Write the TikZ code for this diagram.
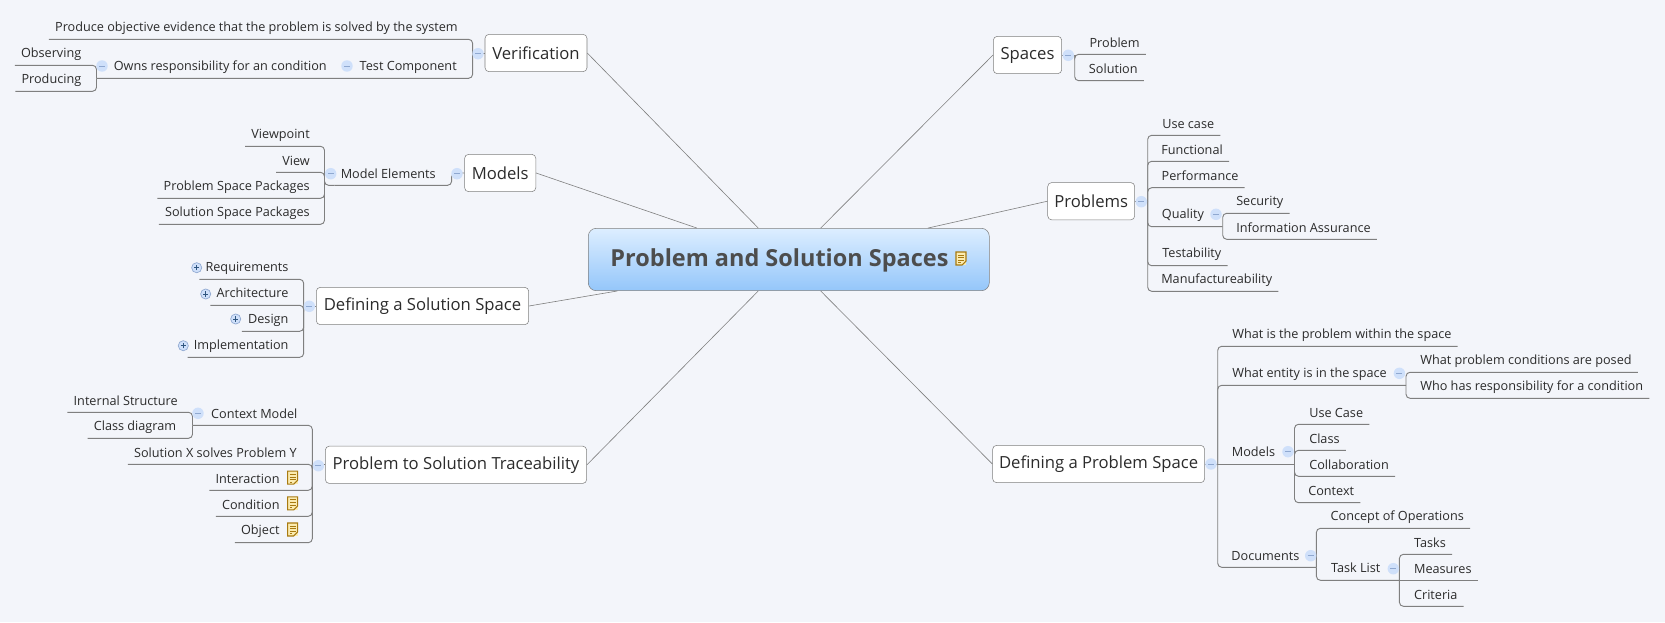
\documentclass[tikz,border=0pt]{standalone}
\usepackage{fontspec}
\setmainfont{Open Sans}

\definecolor{bgcol}{HTML}{F3F5FA}
\definecolor{linecol}{HTML}{7F7F7F}
\definecolor{textcol}{HTML}{2B2B2B}
\definecolor{rootcol}{HTML}{4D4D4D}
\definecolor{roottop}{HTML}{DDEEFF}
\definecolor{rootbot}{HTML}{94C6FA}
\definecolor{circcol}{HTML}{CFE0FA}
\definecolor{minuscol}{HTML}{8FA8D0}
\definecolor{pluscol}{HTML}{2F557F}
\definecolor{notecol}{HTML}{A87A10}
\definecolor{notefill}{HTML}{FBEBB0}

\tikzset{
  x=.75pt, y=-.75pt,
  spoke/.style={draw=linecol, line width=.45pt},
  branch/.style={draw=linecol, line width=.7pt, rounded corners=3pt},
  root/.style={draw=linecol, rounded corners=6pt, top color=roottop, bottom color=rootbot, minimum width=300.75pt, minimum height=46.8pt, inner sep=0pt, text height=13pt, text depth=1.8pt, text=rootcol, font=\fontsize{17.6}{20}\selectfont\bfseries},
  mainbox/.style={draw=linecol, fill=white, rounded corners=3pt, minimum height=28pt, inner sep=0pt, text=textcol, font=\fontsize{12.5}{14}\selectfont},
  topic/.style={inner xsep=4.5pt, inner ysep=3.6pt, text height=7.2pt, text depth=2.2pt, text=textcol, font=\fontsize{9.5}{11}\selectfont},
  low/.style={inner ysep=2.9pt},
  topicl/.style={topic, anchor=south east},
  topicr/.style={topic, anchor=south west},
  collapse/.style={circle, fill=circcol, minimum size=8.6pt, inner sep=0pt, path picture={\draw[minuscol, line width=.6pt] ([xshift=-2.2pt]path picture bounding box.center) -- ([xshift=2.2pt]path picture bounding box.center);}},
  expand/.style={circle, draw=minuscol, fill=circcol, line width=.5pt, minimum size=7.6pt, inner sep=0pt, path picture={\draw[pluscol, line width=.5pt] ([xshift=-2pt]path picture bounding box.center) -- ([xshift=2pt]path picture bounding box.center) ([yshift=-2pt]path picture bounding box.center) -- ([yshift=2pt]path picture bounding box.center);}},
  notebox/.pic={
    \fill[notefill] (-5,-6.5) rectangle (5,6.5);
    \draw[notecol, line width=.8pt] (5,2.5) -- (5,-6.5) -- (-5,-6.5) -- (-5,6.5) -- (1,6.5) -- cycle;
    \draw[notecol, line width=.6pt] (-2.8,-3.5) -- (2.8,-3.5) (-2.8,-.8) -- (2.8,-.8) (-2.8,1.9) -- (2.8,1.9) (-2.8,4.2) -- (-.5,4.2);
  }
}

\begin{document}
\begin{tikzpicture}
\useasboundingbox[fill=bgcol] (0,0) rectangle (1665,622);

\node[root] (root) at (788.8,259.5) {Problem and Solution Spaces\hspace*{14pt}};
\node[mainbox, minimum width=76.5pt] (ver) at (536,53) {Verification};
\node[mainbox, minimum width=53.4pt] (mod) at (500.2,173) {Models};
\node[mainbox, minimum width=159.3pt] (sol) at (422.5,306) {Defining a Solution Space};
\node[mainbox, minimum width=196pt] (tra) at (456,464.8) {Problem to Solution Traceability};
\node[mainbox, minimum width=51.3pt] (spa) at (1027.5,55) {Spaces};
\node[mainbox, minimum width=65.25pt] (pro) at (1091.2,201.2) {Problems};
\node[mainbox, minimum width=159pt] (psp) at (1098.6,464) {Defining a Problem Space};

\draw[spoke] ([xshift=-22.9pt]root.north) -- (ver.east);
\draw[spoke] ([xshift=-69pt]root.north) -- (mod.east);
\draw[spoke] ([xshift=-128.6pt]root.south) -- (sol.east);
\draw[spoke] ([xshift=-22.9pt]root.south) -- (tra.east);
\draw[spoke] ([xshift=23.9pt]root.north) -- (spa.west);
\draw[spoke] ([xshift=104.4pt]root.north) -- (pro.west);
\draw[spoke] ([xshift=23.9pt]root.south) -- (psp.west);

\coordinate (verf) at (472.6,53);
\coordinate (ownf) at (96.5,78.3);
\coordinate (modf) at (451.6,173);
\coordinate (elef) at (324.5,173);
\coordinate (solf) at (303.7,306);
\coordinate (traf) at (312.3,464.8);
\coordinate (ctxf) at (192.5,425.3);
\coordinate (spaf) at (1074.7,55);
\coordinate (prof) at (1147.7,201.2);
\coordinate (qulf) at (1222.7,226.7);
\coordinate (pspf) at (1217.7,464);
\coordinate (entf) at (1406,385.3);
\coordinate (pmof) at (1294.5,464);
\coordinate (docf) at (1316.4,567.3);
\coordinate (tlif) at (1399.4,580.3);

\node[topicl] (ver1) at (464,39.3) {Produce objective evidence that the problem is solved by the system};
\node[topicl] (ver2) at (463,78.3) {Test Component};
\node[topicl] (own1) at (333,78.3) {Owns responsibility for an condition};
\node[topicl] (own2) at (87.5,65.3) {Observing};
\node[topicl] (own3) at (87.5,91.3) {Producing};
\node[topicl, low] (mod1) at (442,185.3) {Model Elements};
\node[topicl] (ele1) at (316,146.3) {Viewpoint};
\node[topicl, low] (ele2) at (316,172.3) {View};
\node[topicl] (ele3) at (316,198.3) {Problem Space Packages};
\node[topicl] (ele4) at (316,224.3) {Solution Space Packages};
\node[topicl] (sol1) at (294.7,279.3) {Requirements};
\node[topicl] (sol2) at (294.7,305.3) {Architecture};
\node[topicl] (sol3) at (294.7,331.3) {Design};
\node[topicl] (sol4) at (294.7,357.3) {Implementation};
\node[topicl, low] (tra1) at (303.7,425.3) {Context Model};
\node[topicl, low] (ctx1) at (184,412.3) {Internal Structure};
\node[topicl] (ctx2) at (182.4,438.3) {Class diagram};
\node[topicl, low] (tra2) at (303,464.3) {Solution X solves Problem Y};
\node[topicl, low] (tra3) at (285.8,490.3) {Interaction};
\node[topicl, low] (tra4) at (285.8,516.3) {Condition};
\node[topicl] (tra5) at (285.8,542.7) {Object};
\node[topicr, low] (spa1) at (1083.3,54.3) {Problem};
\node[topicr, low] (spa2) at (1082.7,80.7) {Solution};
\node[topicr, low] (pro1) at (1156,135.3) {Use case};
\node[topicr, low] (pro2) at (1155,161.3) {Functional};
\node[topicr, low] (pro3) at (1155.4,187.7) {Performance};
\node[topicr] (pro4) at (1155.7,226.7) {Quality};
\node[topicr] (pro5) at (1156,265.7) {Testability};
\node[topicr] (pro6) at (1155,291.3) {Manufactureability};
\node[topicr] (qul1) at (1230,213.3) {Security};
\node[topicr, low] (qul2) at (1230,239.3) {Information Assurance};
\node[topicr] (psp1) at (1226,346.3) {What is the problem within the space};
\node[topicr] (psp2) at (1226,385.3) {What entity is in the space};
\node[topicr] (psp3) at (1225.6,464) {Models};
\node[topicr, low] (psp4) at (1225.2,567.3) {Documents};
\node[topicr] (ent1) at (1414,372.3) {What problem conditions are posed};
\node[topicr] (ent2) at (1414,398.3) {Who has responsibility for a condition};
\node[topicr, low] (pmo1) at (1303,424.3) {Use Case};
\node[topicr, low] (pmo2) at (1303,450.3) {Class};
\node[topicr, low] (pmo3) at (1303,476.3) {Collaboration};
\node[topicr, low] (pmo4) at (1302,502.7) {Context};
\node[topicr] (doc1) at (1324.4,528.3) {Concept of Operations};
\node[topicr] (doc2) at (1324.8,580.3) {Task List};
\node[topicr, low] (tli1) at (1407.8,554.3) {Tasks};
\node[topicr, low] (tli2) at (1407.8,580.3) {Measures};
\node[topicr, low] (tli3) at (1407.8,606.3) {Criteria};

\draw[branch] (ver.west) -- (verf);
\draw[branch] (verf) |- (ver1.south west);
\draw[branch] (verf) |- (ownf);
\draw[branch] (ownf) |- (own2.south west);
\draw[branch] (ownf) |- (own3.south west);
\draw[branch] (mod.west) -- (modf) |- (mod1.south east) -- (mod1.south west);
\draw[branch] (mod1.south west) -| (elef);
\draw[branch] (elef) |- (ele1.south west);
\draw[branch] (elef) |- (ele2.south west);
\draw[branch] (elef) |- (ele3.south west);
\draw[branch] (elef) |- (ele4.south west);
\draw[branch] (sol.west) -- (solf);
\draw[branch] (solf) |- (sol1.south west);
\draw[branch] (solf) |- (sol2.south west);
\draw[branch] (solf) |- (sol3.south west);
\draw[branch] (solf) |- (sol4.south west);
\draw[branch] (tra.west) -- (traf);
\draw[branch] (traf) |- (ctxf);
\draw[branch] (traf) |- (tra2.south west);
\draw[branch] (traf) |- (tra3.south west);
\draw[branch] (traf) |- (tra4.south west);
\draw[branch] (traf) |- (tra5.south west);
\draw[branch] (ctxf) |- (ctx1.south west);
\draw[branch] (ctxf) |- (ctx2.south west);
\draw[branch] (spa.east) -- (spaf);
\draw[branch] (spaf) |- (spa1.south east);
\draw[branch] (spaf) |- (spa2.south east);
\draw[branch] (pro.east) -- (prof);
\draw[branch] (prof) |- (pro1.south east);
\draw[branch] (prof) |- (pro2.south east);
\draw[branch] (prof) |- (pro3.south east);
\draw[branch] (prof) |- (qulf);
\draw[branch] (prof) |- (pro5.south east);
\draw[branch] (prof) |- (pro6.south east);
\draw[branch] (qulf) |- (qul1.south east);
\draw[branch] (qulf) |- (qul2.south east);
\draw[branch] (psp.east) -- (pspf);
\draw[branch] (pspf) |- (psp1.south east);
\draw[branch] (pspf) |- (entf);
\draw[branch] (pspf) -- (pmof);
\draw[branch] (pspf) |- (docf);
\draw[branch] (entf) |- (ent1.south east);
\draw[branch] (entf) |- (ent2.south east);
\draw[branch] (pmof) |- (pmo1.south east);
\draw[branch] (pmof) |- (pmo2.south east);
\draw[branch] (pmof) |- (pmo3.south east);
\draw[branch] (pmof) |- (pmo4.south east);
\draw[branch] (docf) |- (doc1.south east);
\draw[branch] (docf) |- (tlif);
\draw[branch] (tlif) |- (tli1.south east);
\draw[branch] (tlif) -- (tli2.south east);
\draw[branch] (tlif) |- (tli3.south east);

\node[collapse] (verc) at (478,53.7) {};
\node[collapse] (ownc) at (102,66) {};
\node[collapse] (cmpc) at (347,66) {};
\node[collapse] (modc) at (457,173.7) {};
\node[collapse] (elec) at (330.7,173.7) {};
\node[collapse] (solc) at (309.3,306.3) {};
\node[collapse] (trac) at (318.4,465.7) {};
\node[collapse] (ctxc) at (198,413.3) {};
\node[collapse] (spac) at (1068.3,55.3) {};
\node[collapse] (proc) at (1141.3,201.7) {};
\node[collapse] (qulc) at (1216,214.3) {};
\node[collapse] (pspc) at (1211,464) {};
\node[collapse] (entc) at (1399.4,373.3) {};
\node[collapse] (pmoc) at (1288,451.7) {};
\node[collapse] (docc) at (1310.7,555.7) {};
\node[collapse] (tlic) at (1393.3,568.7) {};
\node[expand] (sol1e) at (196.7,267.7) {};
\node[expand] (sol2e) at (205.7,294) {};
\node[expand] (sol3e) at (235.7,319) {};
\node[expand] (sol4e) at (183.3,345.7) {};

\pic at (961,258.5) {notebox};
\pic at (292.7,477.7) {notebox};
\pic at (292.7,503.3) {notebox};
\pic at (292.7,529.5) {notebox};
\end{tikzpicture}
\end{document}
